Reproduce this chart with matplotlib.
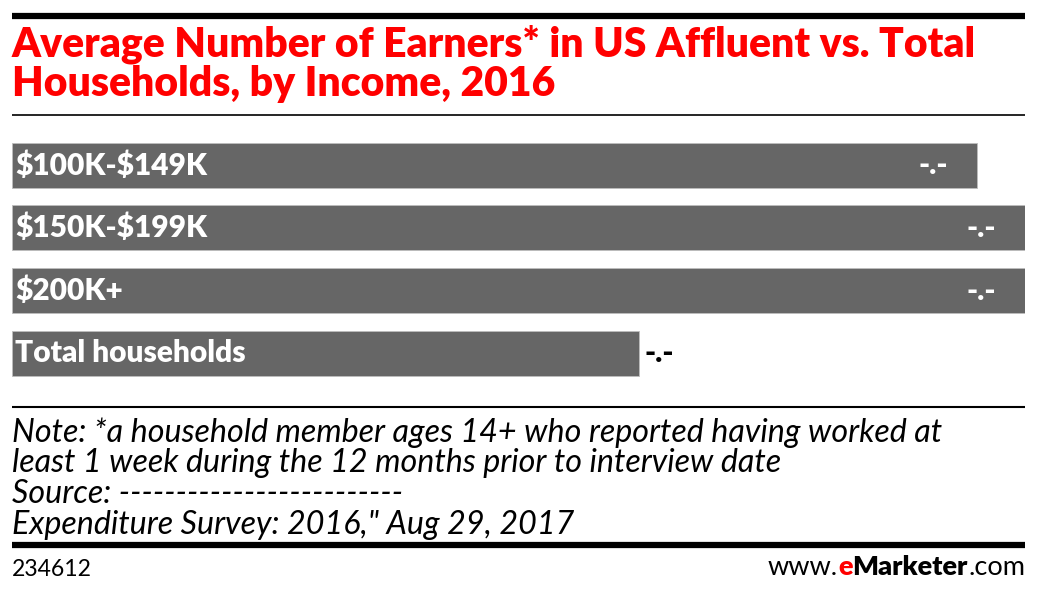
import matplotlib
matplotlib.use("Agg")
import matplotlib.pyplot as plt
from matplotlib.lines import Line2D

# data
categories = ["\\$100K-\\$149K", "\\$150K-\\$199K", "\\$200K+", "Total households"]
values = [2.0, 2.1, 2.1, 1.3]
value_labels = ["-.-", "-.-", "-.-", "-.-"]

W, H = 1038, 593
plt.rcParams['font.family'] = ['Lato', 'DejaVu Sans']

fig = plt.figure(figsize=(W / 100, H / 100), dpi=100)
renderer = fig.canvas.get_renderer()


def px(x, y):
    return x / W, 1 - y / H


def hline(y, lw, x0=12, x1=1025):
    a = px(x0, y)
    b = px(x1, y)
    fig.add_artist(Line2D([a[0], b[0]], [a[1], b[1]], color="black", lw=lw,
                          transform=fig.transFigure, solid_capstyle="butt"))


def fit_size(s, target, **kw):
    # font size that makes the string about target px wide
    t = fig.text(0, 0, s, fontsize=20, **kw)
    w = t.get_window_extent(renderer=renderer).width
    t.remove()
    return 20 * target / w


hline(15.5, 4.5)
hline(115, 1.2)
hline(407, 1.5)
hline(545, 4.5)

# title
title1 = "Average Number of Earners* in US Affluent vs. Total"
title2 = "Households, by Income, 2016"
ts = fit_size(title1, 963, fontweight="heavy")
fig.text(*px(12, 56), title1, color="#ff0000", fontsize=ts, fontweight="heavy", va="baseline")
fig.text(*px(12, 96), title2, color="#ff0000", fontsize=ts, fontweight="heavy", va="baseline")

# bars
ax = fig.add_axes([12 / W, 1 - 384.5 / H, 1013 / W, 250.5 / H])
ypos = list(range(len(categories)))
ax.barh(ypos, values, height=0.72, color="#666666", edgecolor="#bdbdbd", linewidth=0.6)
ax.set_xlim(0, 2.1)
ax.set_ylim(3.5, -0.5)
ax.axis("off")

ls = fit_size(categories[0], 192, fontweight="heavy")
for i, (cat, v, lab) in enumerate(zip(categories, values, value_labels)):
    ax.text(0.006, i, cat, color="white", fontsize=ls, fontweight="heavy",
            va="center", ha="left")
    if v > 1.8:
        ax.text(v - 0.06, i, lab, color="white", fontsize=ls, fontweight="heavy",
                va="center", ha="right")
    else:
        ax.text(v + 0.012, i, lab, color="black", fontsize=ls, fontweight="heavy",
                va="center", ha="left")

# notes
notes = ["Note: *a household member ages 14+ who reported having worked at",
         "least 1 week during the 12 months prior to interview date",
         "Source: -------------------------",
         "Expenditure Survey: 2016,\" Aug 29, 2017"]
ns = fit_size(notes[0], 930, style="italic")
for k, line in enumerate(notes):
    fig.text(*px(12, 442 + k * 30.5), line, fontsize=ns, style="italic",
             color="black", va="baseline")

fs = fit_size("234612", 80)
fig.text(*px(12, 576), "234612", fontsize=fs, color="black", va="baseline")

# brand text built from right to left
parts = [(".com", "black", "normal"), ("Marketer", "black", "heavy"),
         ("e", "#ff0000", "heavy"), ("www.", "black", "normal")]
bs = fit_size("www.eMarketer.com", 253)
right = 1025
for part, col, wt in parts:
    t = fig.text(*px(right, 575), part, fontsize=bs, color=col, fontweight=wt,
                 va="baseline", ha="right")
    bb = t.get_window_extent(renderer=renderer)
    right -= bb.width

fig.savefig("out.png", dpi=100)
